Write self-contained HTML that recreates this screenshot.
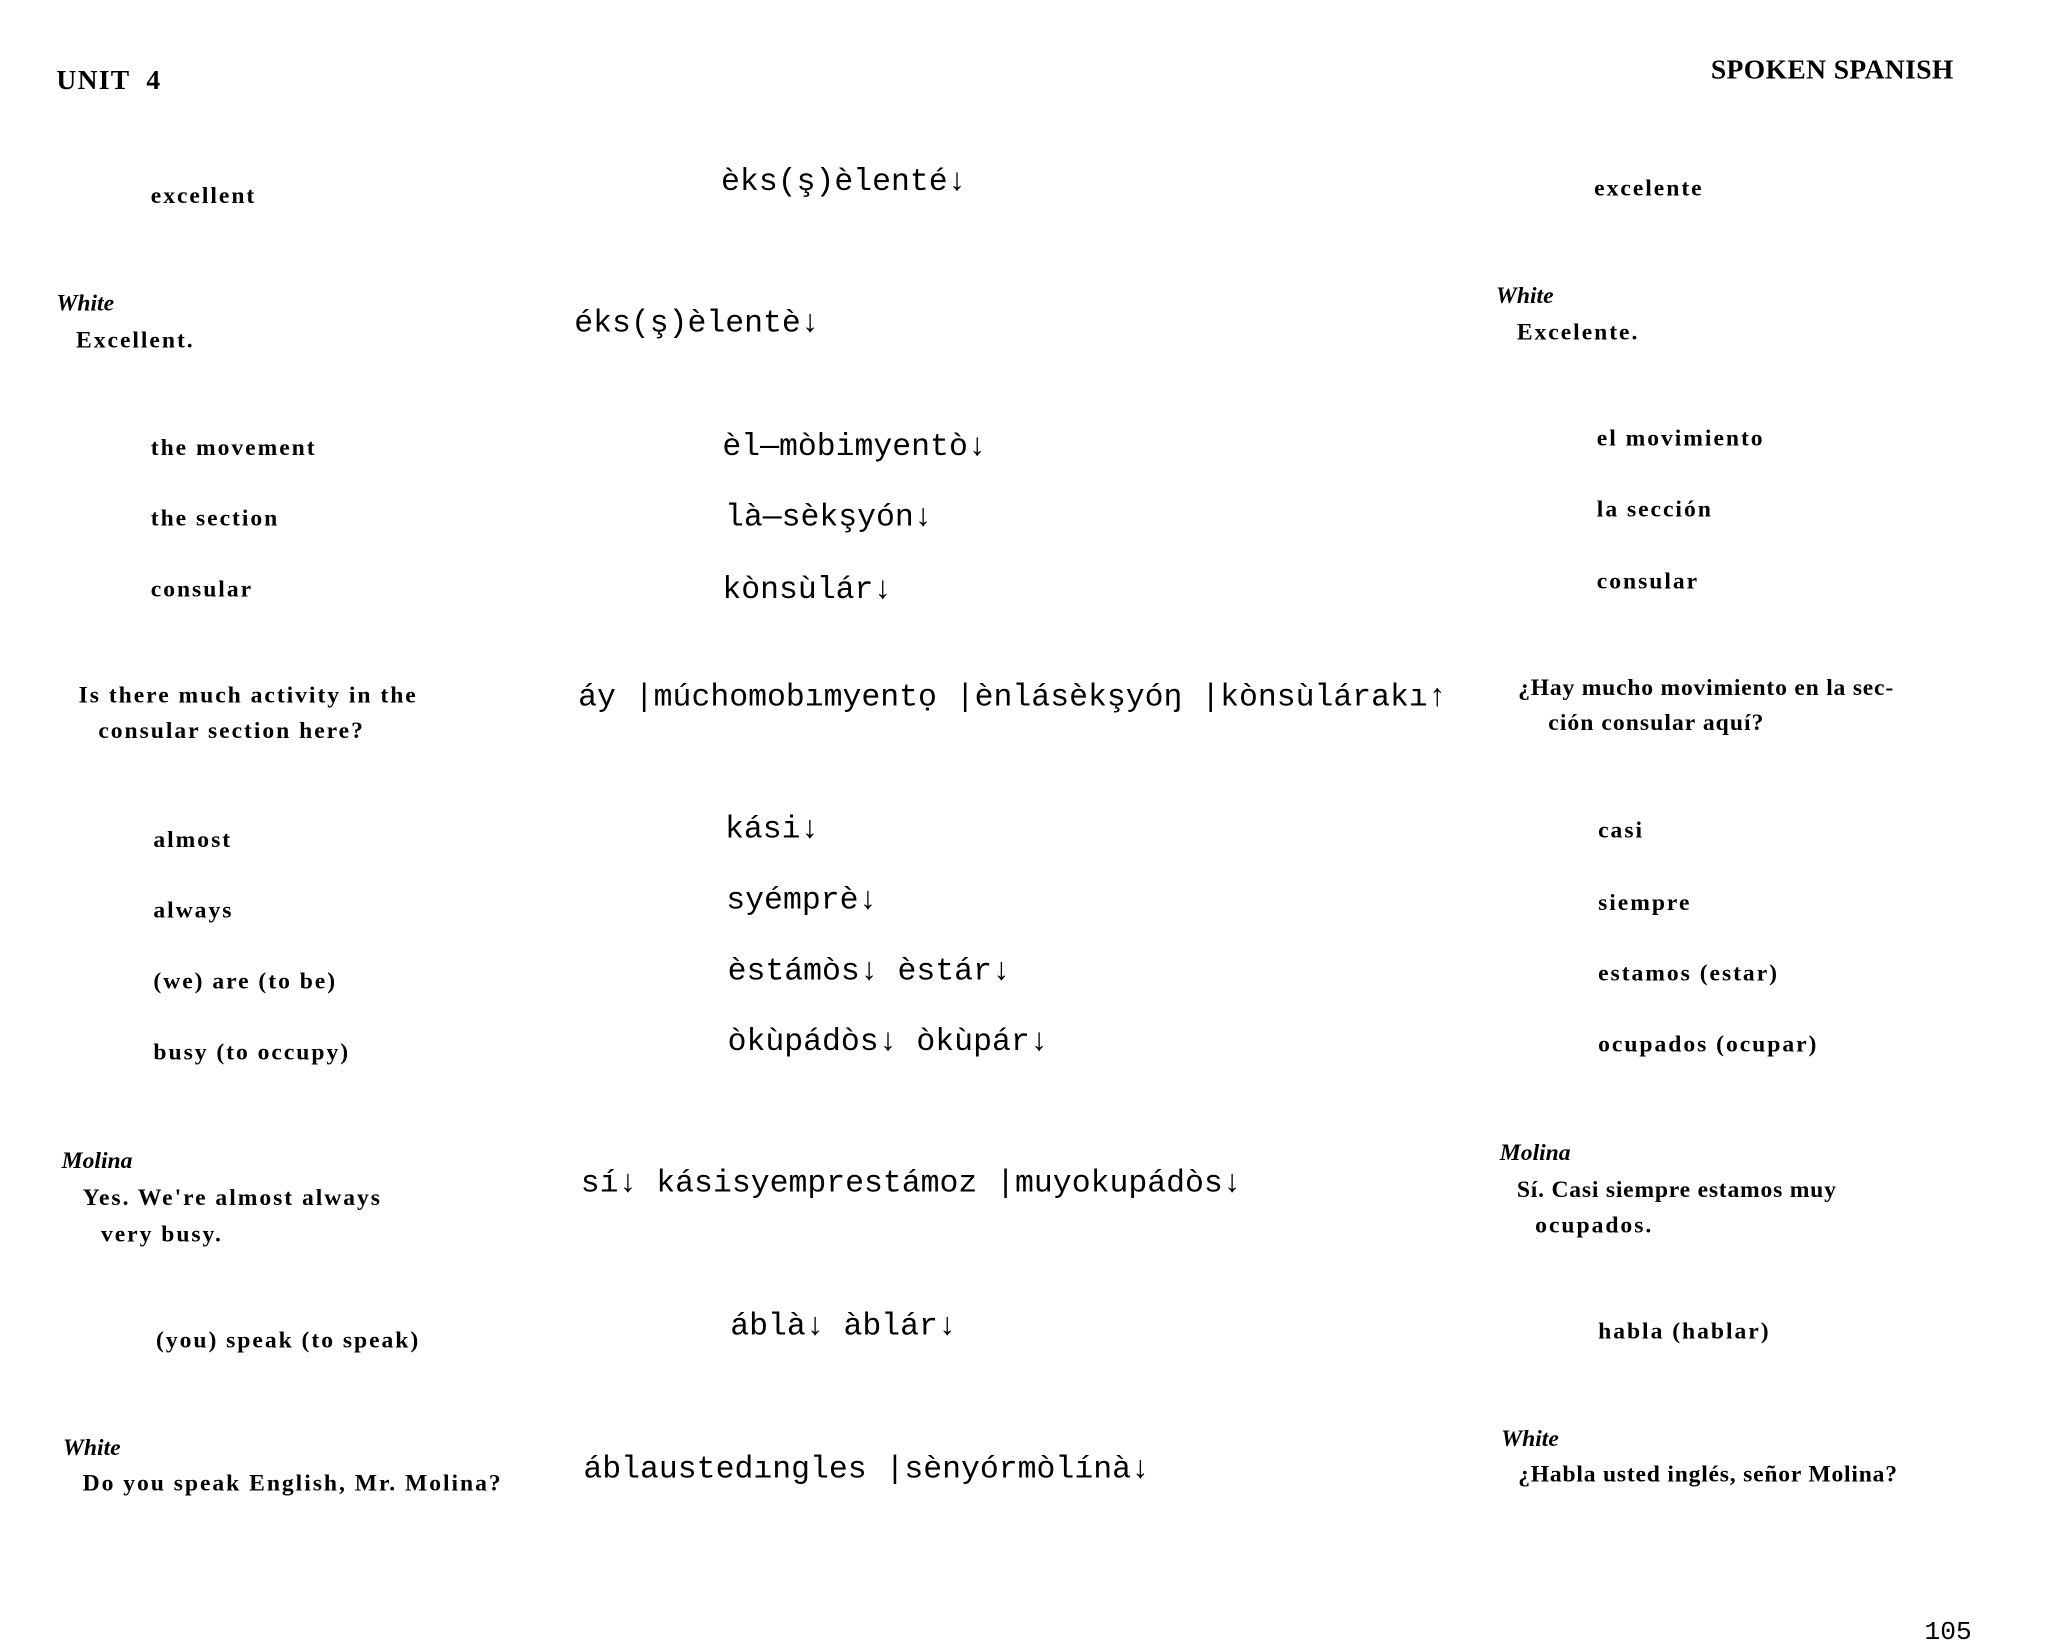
<!DOCTYPE html>
<html><head><meta charset="utf-8"><style>
html,body{margin:0;padding:0;background:#fff;width:2048px;height:1647px;overflow:hidden}
#w{position:absolute;left:0;top:0;width:1562px;height:1257px;transform:scale(1.311);transform-origin:0 0}
#w div{position:absolute;white-space:nowrap;line-height:1;color:#000}
.e{font-family:"Liberation Serif",serif;font-weight:bold;font-size:18px;letter-spacing:1.5px}
.i{font-family:"Liberation Serif",serif;font-weight:bold;font-style:italic;font-size:18px}
.p{font-family:"Liberation Mono",monospace;font-size:24px}
.h{font-family:"Liberation Serif",serif;font-weight:bold;font-size:21px}
</style></head><body><div id="w">
<div class="h" style="left:43px;top:51px;letter-spacing:1px">UNIT &nbsp;4</div>
<div class="h" style="left:1305px;top:43px;letter-spacing:0.3px">SPOKEN SPANISH</div>

<div class="e" style="left:115px;top:140px">excellent</div>
<div class="p" style="left:550px;top:128px">èks(ş)èlenté↓</div>
<div class="e" style="left:1216px;top:134px">excelente</div>

<div class="i" style="left:43px;top:222px">White</div>
<div class="e" style="left:58px;top:250px">Excellent.</div>
<div class="p" style="left:438px;top:236px">éks(ş)èlentè↓</div>
<div class="i" style="left:1141px;top:216px">White</div>
<div class="e" style="left:1157px;top:244px">Excelente.</div>

<div class="e" style="left:115px;top:332px">the movement</div>
<div class="p" style="left:551px;top:330px">èl—mòbimyentò↓</div>
<div class="e" style="left:1218px;top:325px">el movimiento</div>

<div class="e" style="left:115px;top:386px">the section</div>
<div class="p" style="left:553px;top:384px">là—sèkşyón↓</div>
<div class="e" style="left:1218px;top:379px">la sección</div>

<div class="e" style="left:115px;top:440px">consular</div>
<div class="p" style="left:551px;top:439px">kònsùlár↓</div>
<div class="e" style="left:1218px;top:434px">consular</div>

<div class="e" style="left:60px;top:521px">Is there much activity in the</div>
<div class="e" style="left:75px;top:548px">consular section here?</div>
<div class="p" style="left:441px;top:521px">áy |múchomobımyentọ |ènlásèkşyóŋ |kònsùlárakı↑</div>
<div class="e" style="left:1158px;top:515px;letter-spacing:0.6px">¿Hay mucho movimiento en la sec-</div>
<div class="e" style="left:1181px;top:542px;letter-spacing:0.8px">ción consular aquí?</div>

<div class="e" style="left:117px;top:631px">almost</div>
<div class="p" style="left:553px;top:622px">kási↓</div>
<div class="e" style="left:1219px;top:624px">casi</div>

<div class="e" style="left:117px;top:685px">always</div>
<div class="p" style="left:554px;top:676px">syémprè↓</div>
<div class="e" style="left:1219px;top:679px">siempre</div>

<div class="e" style="left:117px;top:739px">(we) are (to be)</div>
<div class="p" style="left:555px;top:730px">èstámòs↓ èstár↓</div>
<div class="e" style="left:1219px;top:733px">estamos (estar)</div>

<div class="e" style="left:117px;top:793px">busy (to occupy)</div>
<div class="p" style="left:555px;top:784px">òkùpádòs↓ òkùpár↓</div>
<div class="e" style="left:1219px;top:787px">ocupados (ocupar)</div>

<div class="i" style="left:47px;top:876px">Molina</div>
<div class="e" style="left:63px;top:904px">Yes. We're almost always</div>
<div class="e" style="left:77px;top:932px">very busy.</div>
<div class="p" style="left:443px;top:892px">sí↓ kásisyemprestámoz |muyokupádòs↓</div>
<div class="i" style="left:1144px;top:870px">Molina</div>
<div class="e" style="left:1157px;top:898px;letter-spacing:0.6px">Sí. Casi siempre estamos muy</div>
<div class="e" style="left:1171px;top:925px">ocupados.</div>

<div class="e" style="left:119px;top:1013px">(you) speak (to speak)</div>
<div class="p" style="left:557px;top:1001px">áblà↓ àblár↓</div>
<div class="e" style="left:1219px;top:1006px">habla (hablar)</div>

<div class="i" style="left:48px;top:1095px">White</div>
<div class="e" style="left:63px;top:1122px">Do you speak English, Mr. Molina?</div>
<div class="p" style="left:445px;top:1110px">áblaustedıngles |sènyórmòlínà↓</div>
<div class="i" style="left:1145px;top:1088px">White</div>
<div class="e" style="left:1158px;top:1115px;letter-spacing:0.6px">¿Habla usted inglés, señor Molina?</div>

<div class="p" style="left:1468px;top:1236px;font-size:20px">105</div>
</div></body></html>
